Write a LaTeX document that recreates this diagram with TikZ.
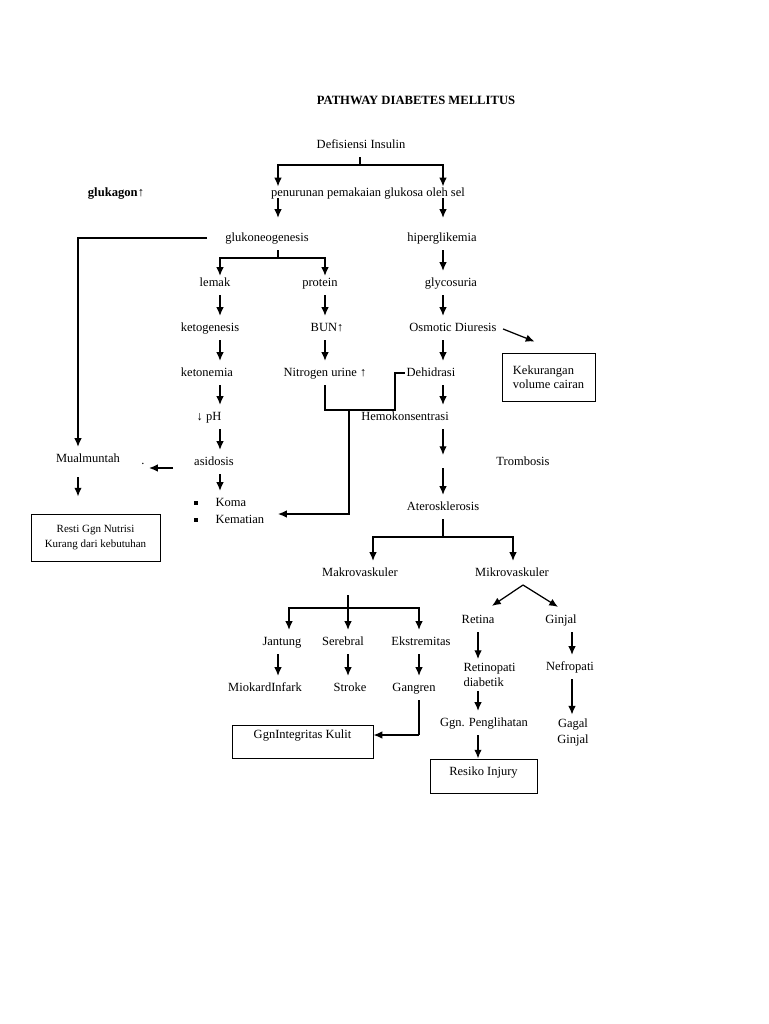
\documentclass[tikz,border=0pt]{standalone}
\usepackage{fontspec}
\setmainfont{Liberation Serif}
\usetikzlibrary{arrows.meta,calc}
\begin{document}
\begin{tikzpicture}[x=0.8pt,y=-0.8pt,
  every node/.style={font=\fontsize{10}{12}\selectfont},
  t/.style={inner xsep=1pt,inner ysep=5pt,text height=7pt,text depth=2pt},
  tb/.style={t,font=\fontsize{10.1}{12}\selectfont\bfseries},
  ml/.style={inner ysep=3pt,inner xsep=1pt},
  bx/.style={draw,line width=0.8pt},
  ln/.style={line width=1pt},
  arr/.style={ln,-{Latex[length=7pt,width=6pt]}},
  bul/.style={fill,inner sep=0pt,minimum size=3.8pt}]
\fill[white] (0,0) rectangle (768,1024);
\useasboundingbox (0,0) rectangle (768,1024);

% column guides
\coordinate (cA) at (78,0);
\coordinate (cB) at (220,0);
\coordinate (cC) at (325,0);
\coordinate (cD) at (443,0);
\coordinate (cE) at (278,0);
\coordinate (cF) at (348,0);
\coordinate (cG) at (419,0);
\coordinate (cH) at (478,0);
\coordinate (cI) at (572,0);
\coordinate (cJ) at (289,0);
\coordinate (cK) at (373,0);
\coordinate (cL) at (513,0);

% nodes
\node[tb] (title) at (416,101) {PATHWAY DIABETES MELLITUS};
\node[t] (def) at (361,145) {Defisiensi Insulin};
\node[tb] (gluk) at (116,193) {glukagon↑};
\node[t] (pen) at (368,193) {penurunan pemakaian glukosa oleh sel};
\node[t] (gneo) at (267,238) {glukoneogenesis};
\node[t] (hiper) at (442,238) {hiperglikemia};
\node[t] (lemak) at (215,283) {lemak};
\node[t] (protein) at (320,283) {protein};
\node[t] (glyco) at (451,283) {glycosuria};
\node[t] (keto) at (210,328) {ketogenesis};
\node[t] (bun) at (327,328) {BUN↑};
\node[t] (osmo) at (453,328) {Osmotic Diuresis};
\node[t] (ktn) at (207,373) {ketonemia};
\node[t] (nitro) at (325,373) {Nitrogen urine ↑};
\node[t] (dehid) at (431,373) {Dehidrasi};
\node[t] (ph) at (209,417) {↓ pH};
\node[t] (hemo) at (405,417) {Hemokonsentrasi};
\node[t] (mual) at (88,459) {Mualmuntah};
\node[t] (dot) at (143,461) {.};
\node[t] (asid) at (214,462) {asidosis};
\node[t] (tromb) at (523,462) {Trombosis};
\node[bul] (b1) at (196,503) {};
\node[bul] (b2) at (196,520) {};
\node[t,anchor=west] (koma) at (214,503) {Koma};
\node[t,anchor=west] (kem) at (214,520) {Kematian};
\node[t] (atero) at (443,507) {Aterosklerosis};
\node[t] (makro) at (360,573) {Makrovaskuler};
\node[t] (mikro) at (512,573) {Mikrovaskuler};
\node[t] (retina) at (478,620) {Retina};
\node[t] (ginjal) at (561,620) {Ginjal};
\node[t] (jantung) at (282,642) {Jantung};
\node[t] (sereb) at (343,642) {Serebral};
\node[t] (ekst) at (421,642) {Ekstremitas};
\node[t] (miok) at (265,688) {MiokardInfark};
\node[t] (stroke) at (350,688) {Stroke};
\node[t] (gangren) at (414,688) {Gangren};
\node[t] (nefro) at (570,667) {Nefropati};
\node[ml,align=left,anchor=west,font=\fontsize{10}{12.4}\selectfont] (retino) at (462,675) {Retinopati\\diabetik};
\node[t] (ggnp) at (484,723) {Ggn. Penglihatan};
\node[ml,align=center,font=\fontsize{10}{13.2}\selectfont] (gagal) at (573,732.5) {Gagal\\Ginjal};

% boxes
\node[bx,align=left,minimum width=74.4pt,minimum height=38.4pt,font=\fontsize{10}{11.4}\selectfont] (kek) at (548.5,377) {Kekurangan\\volume cairan};
\node[bx,align=center,minimum width=103.2pt,minimum height=37.6pt,font=\fontsize{8.8}{12}\selectfont] (resti) at (95.5,537.5) {Resti Ggn Nutrisi\\Kurang dari kebutuhan};
\node[bx,anchor=base,minimum width=112.8pt,inner ysep=3.8pt,text height=7pt,text depth=11.8pt] (ggni) at (302.5,738.5) {GgnIntegritas Kulit};
\node[bx,anchor=base,minimum width=85.6pt,inner ysep=6.2pt,text height=7pt,text depth=7.8pt] (resiko) at (483.5,775.5) {Resiko Injury};

% top branching
\coordinate (defb) at (360,165);
\draw[ln] (def.south -| defb) -- (defb);
\draw[arr,shorten >=-4.5pt] (defb) -| (cE |- pen.north);
\draw[arr,shorten >=-4.5pt] (defb) -| (cD |- pen.north);
\draw[arr,shorten <=-5.6pt,shorten >=6.4pt] (cE |- pen.south) -- (cE |- gneo.north);
\draw[arr,shorten <=-5.6pt,shorten >=6.4pt] (cD |- pen.south) -- (cD |- hiper.north);

% glukoneogenesis branching
\coordinate (gb) at (278,258);
\draw[ln] (cE |- gneo.south) -- (gb);
\draw[arr,shorten >=-4pt] (gb) -| (cB |- lemak.north);
\draw[arr,shorten >=-4pt] (gb) -| (cC |- protein.north);
\coordinate (gl) at (207,238);
\draw[arr] (gl) -| (cA |- mual.north);

% vertical chains
\foreach \a/\b/\c in {hiper/glyco/cD, lemak/keto/cB, protein/bun/cC, glyco/osmo/cD,
  keto/ktn/cB, bun/nitro/cC, osmo/dehid/cD, ktn/ph/cB, dehid/hemo/cD, ph/asid/cB,
  asid/koma/cB, jantung/miok/cE, sereb/stroke/cF, ekst/gangren/cG, retina/retino/cH,
  ginjal/nefro/cI, retino/ggnp/cH, nefro/gagal/cI, ggnp/resiko/cH}
  \draw[arr] (\c |- \a.south) -- (\c |- \b.north);

% hemokonsentrasi -> aterosklerosis
\coordinate (ta) at (443,455);
\coordinate (tb) at (443,468);
\draw[arr] (cD |- hemo.south) -- (ta);
\draw[arr] (tb) -- (cD |- atero.north);

% mual -> resti
\draw[arr,shorten <=4.8pt,shorten >=13.6pt] (cA |- mual.south) -- (cA |- resti.north);

% asidosis -> dot
\coordinate (as) at (173,468);
\draw[arr,shorten >=2.4pt] (as) -- (dot.east |- as);

% osmotic -> kekurangan
\draw[arr] ($(osmo.east)+(5,1)$) -- ($(kek.north west)+(33,-11)$);

% nitrogen / dehidrasi route
\coordinate (nj) at (395,410);
\draw[ln] (cC |- nitro.south) |- (nj) |- (dehid.west);
\coordinate (nk) at (349,410);
\coordinate (km) at (278,514);
\draw[arr] (nk) |- (km);

% aterosklerosis branching
\coordinate (ab) at (443,537);
\draw[ln] (atero.south) -- (ab);
\draw[arr] (ab) -| (cK |- makro.north);
\draw[arr] (ab) -| (cL |- mikro.north);

% makrovaskuler branching
\coordinate (mb) at (348,608);
\draw[ln,shorten <=8pt] (cF |- makro.south) -- (mb);
\draw[arr] (mb) -| (cJ |- jantung.north);
\draw[arr] (mb) -- (cF |- sereb.north);
\draw[arr] (mb) -| (cG |- ekst.north);

% mikrovaskuler branching
\coordinate (mk) at (523,585);
\draw[arr] (mk) -- ($(retina.north)+(14,-2)$);
\draw[arr] (mk) -- ($(ginjal.north)+(-3,-1)$);

% gangren -> integritas kulit
\coordinate (gg) at (419,735);
\draw[ln] (cG |- gangren.south) -- (gg);
\draw[arr] (gg) -- (ggni.east |- gg);
\end{tikzpicture}
\end{document}
